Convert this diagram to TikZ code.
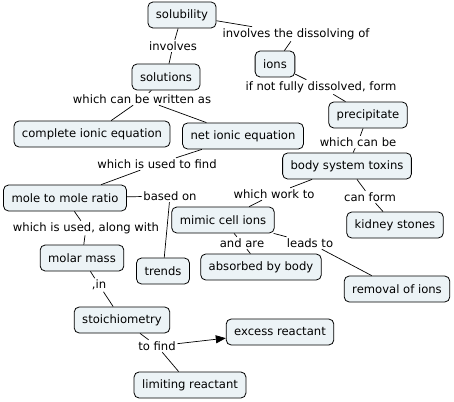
\documentclass[tikz,border=0pt]{standalone}
\usepackage{fontspec}
\setmainfont{DejaVu Sans}
\usetikzlibrary{arrows.meta}
\definecolor{nodefill}{RGB}{236,243,246}
\tikzset{
  concept/.style={draw=black, line width=0.8pt, fill=nodefill, rounded corners=5pt,
    inner xsep=8pt, inner ysep=0pt, minimum height=26pt, font=\fontsize{11.6}{13}\selectfont},
  lbl/.style={inner sep=1.5pt, font=\fontsize{11.6}{13}\selectfont},
  link/.style={line width=0.7pt},
  arr/.style={line width=0.7pt, -{Triangle[length=10pt,width=8pt]}}
}
\begin{document}
\begin{tikzpicture}[x=1pt,y=-1pt]
\useasboundingbox (0,0) rectangle (454,401);
% concepts
\node[concept] (sol) at (182,15) {solubility};
\node[concept] (solns) at (166,77) {solutions};
\node[concept] (cie) at (92,134) {complete ionic equation};
\node[concept] (nie) at (243,136) {net ionic equation};
\node[concept] (ions) at (275,64) {ions};
\node[concept] (prec) at (368,115) {precipitate};
\node[concept] (bst) at (347,166) {body system toxins};
\node[concept] (mmr) at (65,198) {mole to mole ratio};
\node[concept] (mm) at (82,258) {molar mass};
\node[concept] (tr) at (163,271) {trends};
\node[concept] (sto) at (122,320) {stoichiometry};
\node[concept] (lim) at (190,385) {limiting reactant};
\node[concept] (mci) at (223,220) {mimic cell ions};
\node[concept] (abs) at (261,267) {absorbed by body};
\node[concept] (ks) at (395,225) {kidney stones};
\node[concept] (rem) at (397,289) {removal of ions};
\node[concept] (exc) at (280,332) {excess reactant};
% labels
\node[lbl] (l1) at (173,46) {involves};
\node[lbl] (l2) at (296,34) {involves the dissolving of};
\node[lbl] (l3) at (142,99) {which can be written as};
\node[lbl] (l4) at (321,87) {if not fully dissolved, form};
\node[lbl] (l5) at (358,142) {which can be};
\node[lbl] (l6) at (157,164) {which is used to find};
\node[lbl] (l7) at (170,196) {based on};
\node[lbl] (l8) at (274,194) {which work to};
\node[lbl] (l9) at (370,197) {can form};
\node[lbl] (l10) at (86,228) {which is used, along with};
\node[lbl] (l11) at (242,243) {and are};
\node[lbl] (l12) at (310,243) {leads to};
\node[lbl] (l13) at (99,285) {,in};
\node[lbl] (l14) at (157,346) {to find};
% connectors
\draw[link] (sol) -- (l1) -- (solns);
\draw[link] (sol) -- (l2) -- (ions);
\draw[link] (solns) -- (l3);
\draw[link] (l3) -- (cie);
\draw[link] (l3) -- (nie);
\draw[link] (ions) -- (l4) -- (prec);
\draw[link] (prec) -- (l5) -- (bst);
\draw[link] (nie) -- (l6) -- (mmr);
\draw[link] (mmr) -- (l7) -- (tr);
\draw[link] (bst) -- (l8) -- (mci);
\draw[link] (bst) -- (l9) -- (ks);
\draw[link] (mmr) -- (l10) -- (mm);
\draw[link] (mci) -- (l11) -- (abs);
\draw[link] (mci) -- (l12) -- (rem);
\draw[link] (mm) -- (l13) -- (sto);
\draw[link] (sto) -- (l14);
\draw[arr] (l14) -- (exc);
\draw[link] (l14) -- (lim);
\end{tikzpicture}
\end{document}
